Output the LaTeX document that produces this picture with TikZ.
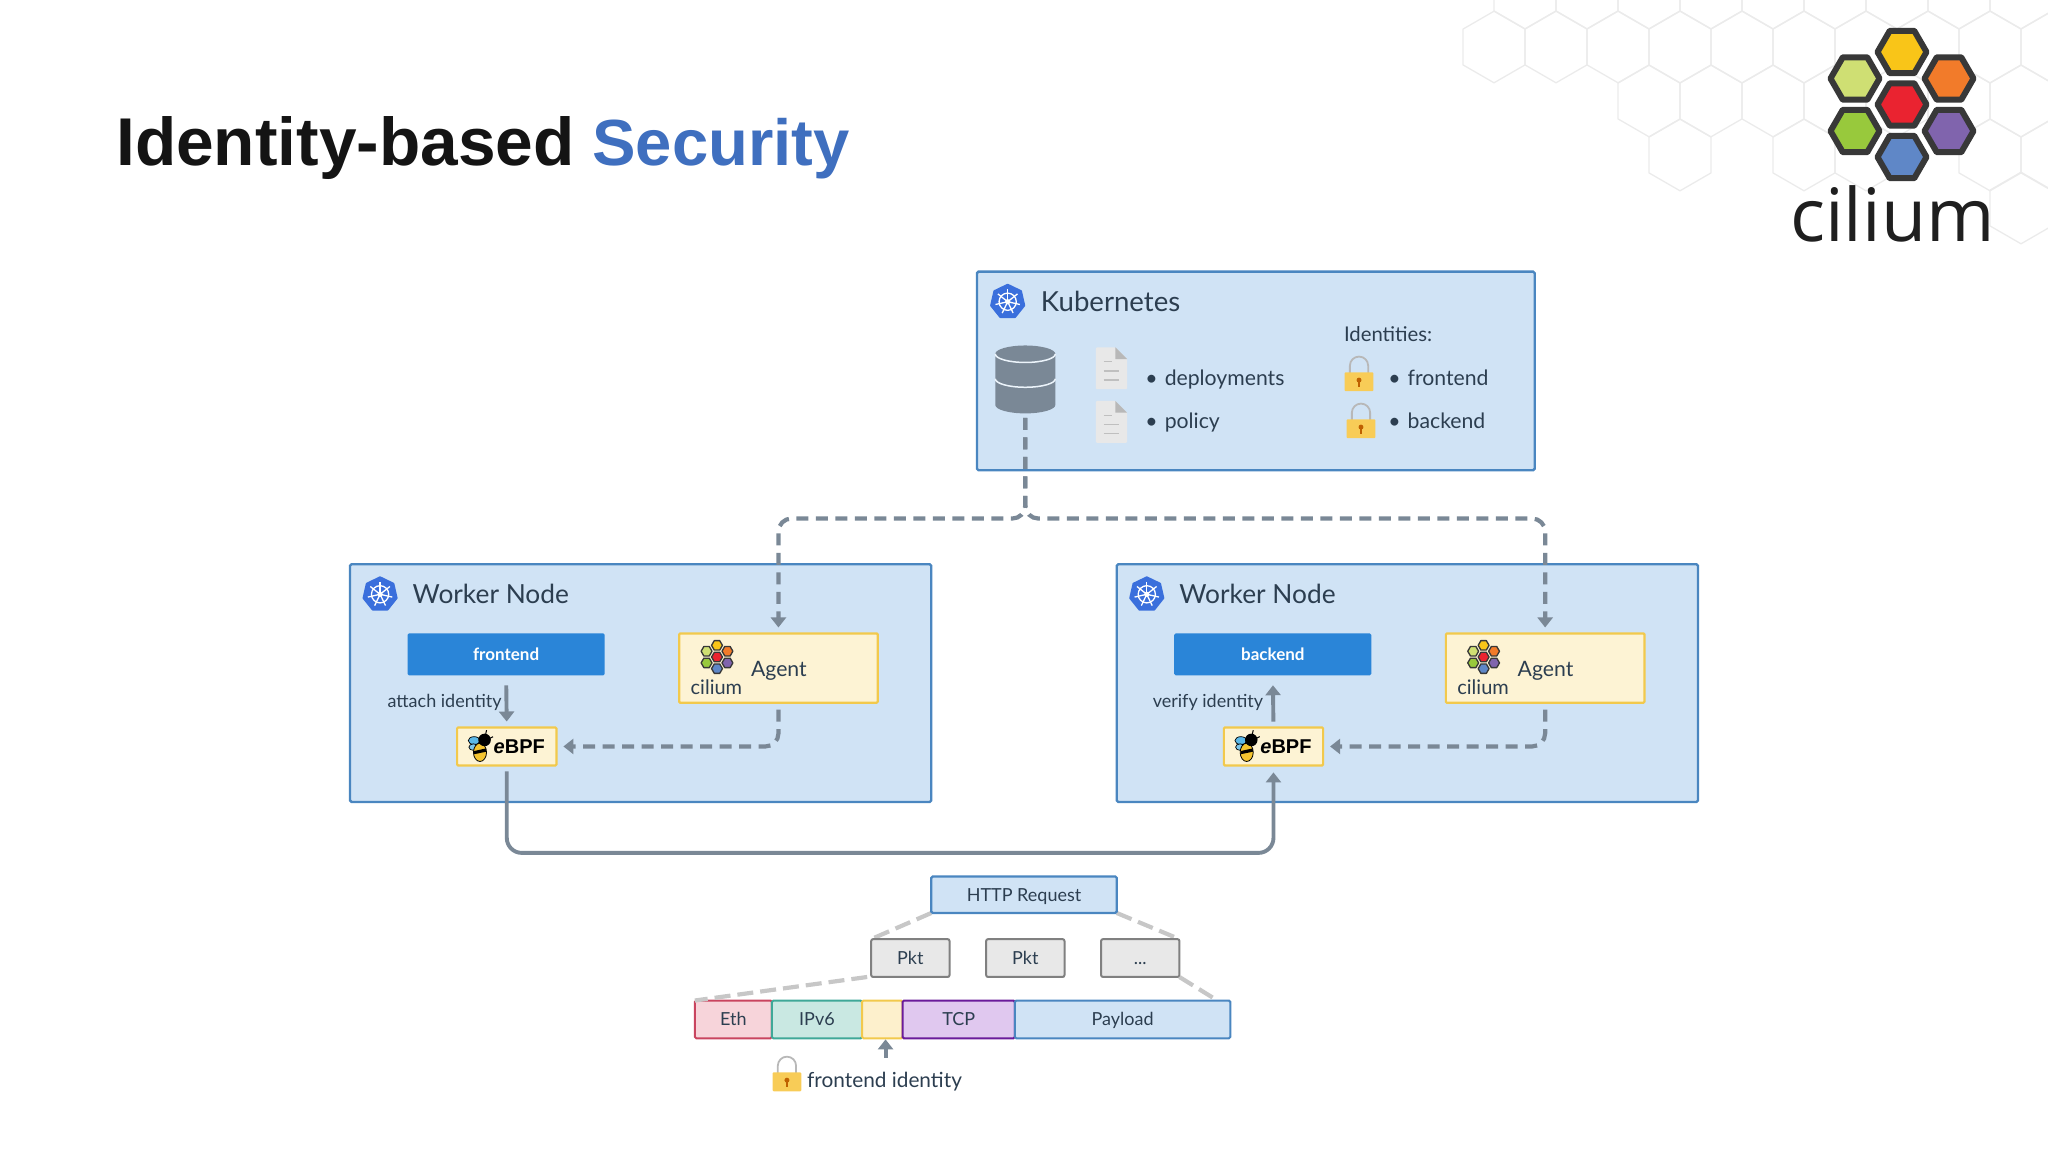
\documentclass[tikz,border=0pt]{standalone}
\usepackage{fontspec}
\setmainfont{Lato}
\newfontfamily\titlefont{Liberation Sans}
\newfontfamily\logofont{Open Sans}
\usetikzlibrary{arrows.meta}
\definecolor{boxblue}{HTML}{D0E3F5}
\definecolor{boxline}{HTML}{4A86C0}
\definecolor{appblue}{HTML}{2A85D8}
\definecolor{flow}{HTML}{7A8896}
\definecolor{ink}{HTML}{2C3E50}
\definecolor{lockyel}{HTML}{F8CC57}
\definecolor{creamf}{HTML}{FDF3D4}
\definecolor{creamd}{HTML}{F2C94C}
\definecolor{hexbg}{HTML}{EBEBEB}
\definecolor{kblue}{HTML}{3A6FDC}
\definecolor{hexd}{HTML}{383838}
\definecolor{hyel}{HTML}{F9C518}
\definecolor{hlgr}{HTML}{CFDF73}
\definecolor{hora}{HTML}{F27B2A}
\definecolor{hred}{HTML}{EA2330}
\definecolor{hgrn}{HTML}{98C93C}
\definecolor{hpur}{HTML}{8064AD}
\definecolor{hblu}{HTML}{5F87C7}
\definecolor{beey}{HTML}{F4C430}
\definecolor{beew}{HTML}{5BB8E8}
\definecolor{ethd}{HTML}{C9445F}\definecolor{ethf}{HTML}{F7D4DA}
\definecolor{ipd}{HTML}{3FA898}\definecolor{ipf}{HTML}{C9E8E2}
\definecolor{optf}{HTML}{FDF0CC}
\definecolor{tcpd}{HTML}{6A1B9A}\definecolor{tcpf}{HTML}{E0C8EF}
\definecolor{titleblue}{HTML}{3F6FBF}
\newcommand\fs[1]{\fontsize{#1}{#1}\selectfont}
\newcommand\hexP[2]{\draw[hexbg,line width=1.3pt,line join=round] (#1,#2) +(30:35.8) -- +(90:35.8) -- +(150:35.8) -- +(210:35.8) -- +(270:35.8) -- +(330:35.8) -- cycle;}
\newcommand\hexF[4]{\draw[draw=hexd,fill=#4,line width=\lw,line join=round] (#1,#2) +(0:#3) -- +(60:#3) -- +(120:#3) -- +(180:#3) -- +(240:#3) -- +(300:#3) -- cycle;}
\newcommand\logohex[3]{% cx cy (px), scale
  \def\lw{#3*6pt}
  \begin{scope}[x=1pt,y=-1pt,shift={(#1,#2)},scale=#3]
    \hexF{0}{-52.5}{24.5}{hyel}
    \hexF{-47}{-26}{24.5}{hlgr}
    \hexF{47}{-26}{24.5}{hora}
    \hexF{0}{0}{24.5}{hred}
    \hexF{-47}{26.5}{24.5}{hgrn}
    \hexF{47}{26.5}{24.5}{hpur}
    \hexF{0}{52.5}{24.5}{hblu}
  \end{scope}}
\newcommand\kicon[2]{%
  \begin{scope}[shift={(#1,#2)}]
    \fill[kblue,draw=kblue,line width=2pt,line join=round] (0,0) +(-90:13) -- +(-38.57:13) -- +(12.86:13) -- +(64.29:13) -- +(115.71:13) -- +(167.14:13) -- +(218.57:13) -- cycle;
    \draw[white,line width=1.3pt] (0,0) circle (6.6);
    \foreach \a in {-90,-38.57,12.86,64.29,115.71,167.14,218.57}
      \draw[white,line width=1.3pt] (0,0) -- (\a:9.6);
    \fill[white] (0,0) circle (2);
  \end{scope}}
\newcommand\docicon[2]{%
  \begin{scope}[shift={(#1,#2)}]
    \fill[rounded corners=1pt,black!9] (-12,-16) -- (3,-16) -- (12,-7) -- (12,16) -- (-12,16) -- cycle;
    \fill[black!28] (3,-16) -- (12,-7) -- (3,-7) -- cycle;
    \draw[black!25,line width=1.2pt] (-6,-5) -- (0,-5) (-6,2) -- (6,2) (-6,9) -- (6,9);
  \end{scope}}
\newcommand\lockicon[2]{% cx, top of body
  \begin{scope}[shift={(#1,#2)}]
    \draw[black!28,line width=1.8pt] (-7,1) -- (-7,-5) arc[start angle=180,end angle=360,x radius=7,y radius=7] -- (7,1);
    \fill[lockyel,rounded corners=1pt] (-11,0) rectangle (11,14.5);
    \fill[black!25!orange] (0,6) circle (1.9);
    \fill[black!25!orange] (-.9,6) rectangle (.9,11);
  \end{scope}}
\newcommand\bee[2]{%
  \begin{scope}[shift={(#1,#2)}]
    \fill[beew,draw=black,line width=.7pt] (-5.5,-5) ellipse (4.5 and 3);
    \fill[beew!80,draw=black,line width=.7pt] (-6,0) ellipse (3.5 and 2.5);
    \fill[beey,draw=black,line width=.8pt] (-1,4) ellipse (5 and 7);
    \fill[black] (-5.5,3) -- (3.5,1) -- (3.8,3.5) -- (-5.8,5.5) -- cycle;
    \fill[black] (2.5,-5.5) circle (4.8);
    \draw[black,line width=1pt] (2.5,-6) -- (4,-13);
    \draw[black,line width=1pt] (3,-5) -- (9,-8);
  \end{scope}}
\tikzset{
  every node/.style={text=ink,inner sep=0pt,outer sep=0pt},
  capalign/.style={text height=#1,text depth=0pt},
  geo/.style n args={4}{at={({(#1+#3)/2},{(#2+#4)/2})},minimum width={(#3-#1)*1.30612pt},minimum height={(#4-#2)*1.30612pt}},
  bigbox/.style={draw=boxline,fill=boxblue,line width=2.4pt,rounded corners=1.5pt},
  app/.style={capalign=12.2pt,fill=appblue,rounded corners=1.5pt,text=white,font=\fs{17}\bfseries},
  agent/.style={draw=creamd,fill=creamf,line width=2.2pt,rounded corners=1pt},
  pkt/.style={capalign=13pt,draw=black!50,fill=black!9,line width=2pt,rounded corners=2pt,font=\fs{18}},
  seg/.style n args={2}{capalign=13pt,draw=#1,fill=#2,line width=2pt,rounded corners=1.5pt,font=\fs{18}},
  head/.style={capalign=19pt,anchor=west,font=\fs{26.3}},
  lab/.style={capalign=15.3pt,anchor=west,font=\fs{21.2}},
  dashflow/.style={draw=flow,line width=4.2pt,dash pattern=on 12pt off 7.5pt,rounded corners=13pt},
  solidflow/.style={draw=flow,line width=3.9pt,rounded corners=15pt},
  tip/.style={-{Triangle[length=10pt,width=15pt]}},
  grayd/.style={draw=black!22,line width=4.2pt,dash pattern=on 16pt off 7pt},
}
\begin{document}
\begin{tikzpicture}[x=1.30612pt,y=-1.30612pt]
\useasboundingbox (0,0) rectangle (1568,882);
% background hexagons
\begin{scope}[x=1pt,y=-1pt]
  \foreach \c in {1525,1587,1649,1711,1773,1835,1897,1959,2021} {\hexP{\c}{-7}}
  \foreach \c in {1494,1556,1618,1680,1742,1804,1866,1928,1990,2052} {\hexP{\c}{47}}
  \foreach \c in {1649,1711,1773,1835,1897,1959,2021} {\hexP{\c}{101}}
  \foreach \c in {1680,1804,1866,1990,2052} {\hexP{\c}{155}}
  \hexP{2021}{208}
\end{scope}
% logo
\logohex{1902}{104.5}{1}
\node[anchor=base,font=\logofont\fs{73.6},text=black!88] (logotext) at (1449,185) {cilium};
% title
\node[anchor=base west,font=\titlefont\bfseries,text=black!92] (title) at (89,126.5) {\fs{67.6}Identity-based\hspace{18pt}\textcolor{titleblue}{\fs{65.2}Security}};

% Kubernetes
\node[bigbox,geo={748}{208}{1175}{360}] (k8s) {};
\kicon{771.5}{231}
\node[head,capalign=19.9pt,font=\fs{27.6}] (k8stxt) at (797,231) {Kubernetes};
\node[minimum width=60pt,minimum height=68pt] (db) at (785,290) {};
\begin{scope}[shift={(785,290)}]
  \fill[flow] (-23,-19) -- (-23,20) arc[start angle=180,end angle=0,x radius=23,y radius=6.5] -- (23,-19) arc[start angle=0,end angle=-180,x radius=23,y radius=6.5];
  \draw[boxblue!40!white,line width=1.5pt] (-23,-19) arc[start angle=180,end angle=0,x radius=23,y radius=6.5];
  \draw[boxblue!40!white,line width=1.5pt] (-23,0) arc[start angle=180,end angle=0,x radius=23,y radius=6.5];
\end{scope}
\docicon{851}{282}
\docicon{851}{323}
\lockicon{1040.5}{285}
\lockicon{1042}{321}
\node[lab] (dp) at (877,289) {•\hspace{7pt}deployments};
\node[lab] (pl) at (877,322) {•\hspace{7pt}policy};
\node[lab,capalign=14.6pt,font=\fs{20.3}] (idn) at (1029,256) {Identities:};
\node[lab] (fe) at (1063,289) {•\hspace{7pt}frontend};
\node[lab] (be) at (1063,322) {•\hspace{7pt}backend};

% Worker left
\node[bigbox,geo={268}{432}{713}{614}] (wl) {};
\kicon{291}{455}
\node[head] (wlt) at (316,455) {Worker Node};
\node[app,geo={312}{485}{463}{517}] (front) {frontend};
\node[agent,geo={520}{485}{672}{538}] (agl) {};
\logohex{717}{657}{.222}
\node[anchor=center,capalign=14.4pt,font=\fs{20}] (cl) at (548.5,526.5) {cilium};
\node[lab] (agtl) at (575,512) {Agent};
\node[agent,geo={350}{557}{426}{586}] (el) {};
\bee{368.5}{572}
\node[anchor=west,font=\titlefont\fs{20}\bfseries,text=black] (elt) at (378,572) {{\itshape e}BPF};
\node[anchor=east,capalign=13pt,font=\fs{18}] (att) at (384,537) {attach identity};

% Worker right
\node[bigbox,geo={855}{432}{1300}{614}] (wr) {};
\kicon{878}{455}
\node[head] (wrt) at (903,455) {Worker Node};
\node[app,geo={899}{485}{1050}{517}] (back) {backend};
\node[agent,geo={1107}{485}{1259}{538}] (agr) {};
\logohex{1483.6}{657}{.222}
\node[anchor=center,capalign=14.4pt,font=\fs{20}] (cr) at (1135.5,526.5) {cilium};
\node[lab] (agtr) at (1162,512) {Agent};
\node[agent,geo={937}{557}{1013}{586}] (er) {};
\bee{955.5}{572}
\node[anchor=west,font=\titlefont\fs{20}\bfseries,text=black] (ert) at (965,572) {{\itshape e}BPF};
\node[anchor=east,capalign=13pt,font=\fs{18}] (ver) at (967,537) {verify identity};

% connectors
\coordinate (busL) at (596,397);
\coordinate (busR) at (1183,397);
\coordinate (busB) at (975,653);
\draw[dashflow,tip,shorten >=6pt,shorten <=5pt] (db.south) |- (busL) -- (agl.north);
\draw[dashflow,tip,shorten >=6pt,shorten <=5pt] (db.south) |- (busR) -- (agr.north);
\draw[dashflow,tip,shorten >=7pt,shorten <=7pt] (agl.south) |- (el.east);
\draw[dashflow,tip,shorten >=7pt,shorten <=7pt] (agr.south) |- (er.east);
\draw[solidflow,tip,shorten >=7pt,shorten <=6pt] (el.south) |- (busB) -- (er.south);
\draw[draw=flow,line width=3.9pt,tip,shorten >=6pt,shorten <=10pt] (front.south) -- (el.north);
\draw[draw=flow,line width=3.9pt,tip,shorten >=10pt,shorten <=6pt] (er.north) -- (back.south);

% packet stack
\draw[grayd] (713,699) -- (667,719);
\draw[grayd] (855,699) -- (903,719);
\node[bigbox,capalign=13pt,line width=2.2pt,font=\fs{18},geo={713}{671}{855}{699}] (http) {HTTP Request};
\node[pkt,geo={667}{719}{727}{748}] (p1) {Pkt};
\node[pkt,geo={755}{719}{815}{748}] (p2) {Pkt};
\node[pkt,geo={843}{719}{903}{748}] (p3) {...};
\node[seg={ethd}{ethf},geo={532}{766}{591}{795}] (eth) {Eth};
\node[seg={ipd}{ipf},geo={591}{766}{660}{795}] (ip) {IPv6};
\node[seg={creamd}{optf},geo={660}{766}{691}{795}] (opt) {};
\node[seg={tcpd}{tcpf},geo={691}{766}{777}{795}] (tcp) {TCP};
\node[seg={boxline}{boxblue},geo={777}{766}{942}{795}] (pay) {Payload};
\draw[grayd] ([xshift=-4pt]p1.south west) -- (eth.north west);
\draw[grayd] (p3.south east) -- ([xshift=-13pt]pay.north east);
\lockicon{602.5}{821}
\node[capalign=15pt,anchor=west,font=\fs{20.8}] (fid) at (618,827) {frontend identity};
\coordinate (idsrc) at (678,810);
\draw[draw=flow,line width=3.9pt,tip,shorten >=1pt] (idsrc) -- (idsrc |- opt.south);
\end{tikzpicture}
\end{document}
